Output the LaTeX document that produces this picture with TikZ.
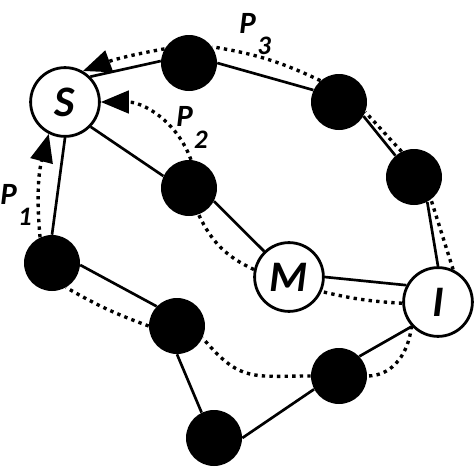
\documentclass[tikz,border=0pt]{standalone}
\usepackage{fontspec}
\setmainfont{Carlito}
\usetikzlibrary{arrows.meta}

\begin{document}
\begin{tikzpicture}[
  hub/.style={circle, draw=black, line width=2pt, fill=white, minimum size=1.72cm,
    inner sep=0pt, font=\fontsize{31}{36}\selectfont\bfseries\itshape},
  relay/.style={circle, fill=black, minimum size=1.4cm, inner sep=0pt},
  link/.style={line width=1.9pt},
  trail/.style={line width=2.4pt, dash pattern=on 2.4pt off 3pt},
  headed/.style={-{Triangle[length=20pt, width=16pt]}},
  plabel/.style={anchor=base west, inner sep=0pt,
    font=\fontsize{22}{26}\selectfont\bfseries\itshape}
]
  \useasboundingbox (0,0) rectangle (11.85,11.85);

  % end points and the middle node
  \node[hub] (S) at (1.625, 9.3) {S};
  \node[hub] (M) at (7.225, 4.925) {M};
  \node[hub] (I) at (10.95, 4.3) {I};

  % relays
  \node[relay] (r1) at (4.725, 10.275) {};
  \node[relay] (r2) at (8.475, 9.3) {};
  \node[relay] (r3) at (10.35, 7.425) {};
  \node[relay] (r4) at (4.725, 7.15) {};
  \node[relay] (r5) at (1.3, 5.275) {};
  \node[relay] (r6) at (4.425, 3.7) {};
  \node[relay] (r7) at (5.35, 0.9) {};
  \node[relay] (r8) at (8.475, 2.45) {};

  % links
  \draw[link] (S.45) -- (r1.176);
  \draw[link] (r1.0) -- (r2.155);
  \draw[link] (r2.-30) -- (r3.131);
  \draw[link] (r3.-62) -- (I.90);
  \draw[link] (S.-44) -- (r4.155);
  \draw[link] (r4.-28) -- (M.134);
  \draw[link] (M.0) -- (I.152);
  \draw[link] (S.-90) -- (r5.90);
  \draw[link] (r5.-4) -- (r6.136);
  \draw[link] (r6.-90) -- (r7.116);
  \draw[link] (r7.0) -- (r8.208);
  \draw[link] (r8.44) -- (I.-137);

  % path P1
  \draw[trail] (I.-138) to[out=-95, in=0] (r8.0);
  \draw[trail] (r8.180) to[out=180, in=-50, looseness=1.3] (r6.-25);
  \draw[trail] (r6.180) to[bend left=5] (r5.-60);
  \draw[trail, headed] (r5.115) to[bend left=10] (S.-117);

  % path P2
  \draw[trail] (I.182) to[bend left=5] (M.-24);
  \draw[trail] (M.168) to[bend left=20] (r4.-70);
  \draw[trail, headed] (r4.86) to[out=110, in=0] (S.0);

  % path P3
  \draw[trail] (I.65) to (r3.-53);
  \draw[trail] (r3.116) to (r2.-21);
  \draw[trail] (r2.131) to[bend right=8] (r1.35);
  \draw[trail, headed] (r1.150) to[bend right=5] (S.60);

  \node[plabel] (p1) at (0.0, 6.75) {P\kern1pt\raisebox{-15pt}{\fontsize{19}{22}\selectfont 1}};
  \node[plabel] (p2) at (4.4, 8.675) {P\kern1pt\raisebox{-15pt}{\fontsize{19}{22}\selectfont 2}};
  \node[plabel] (p3) at (5.98, 11.025) {P\kern1pt\raisebox{-15pt}{\fontsize{19}{22}\selectfont 3}};
\end{tikzpicture}
\end{document}
